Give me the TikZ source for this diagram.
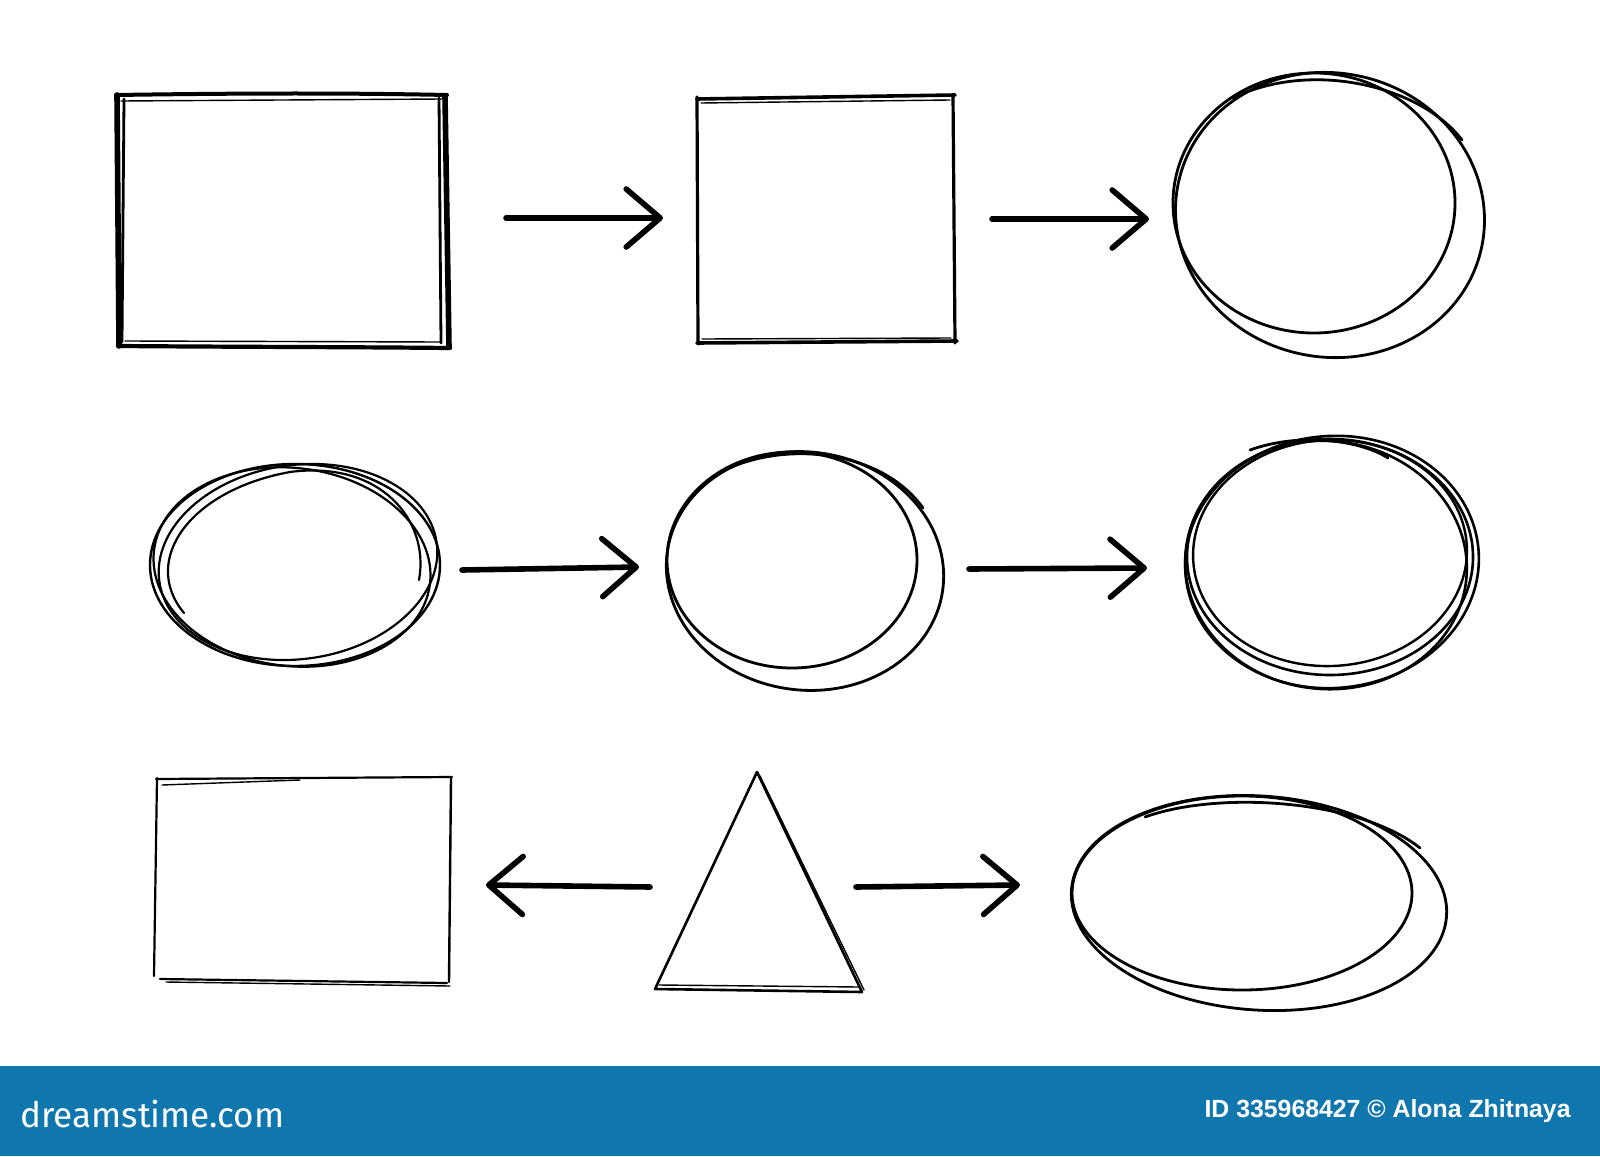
\documentclass[tikz,border=0pt]{standalone}
\usepackage{graphicx}
\usepackage{fontspec}
\setmainfont{Liberation Sans}
\newfontfamily\logofont{Fira Sans}
\usetikzlibrary{arrows.meta}
\definecolor{dtblue}{HTML}{1077AE}
\begin{document}
\begin{tikzpicture}[x=0.5pt,y=-0.5pt,
  pen/.style={line width=1.4pt, line cap=round, line join=round},
  thinpen/.style={line width=0.7pt, line cap=round},
  heavy/.style={line width=2.8pt, line cap=round},
  arr/.style={line width=2.8pt, line cap=round, -{Straight Barb[length=17pt,width=29pt,round]}}]
\useasboundingbox (0,0) rectangle (1600,1156);
\fill[white] (0,0) rectangle (1600,1156);

% ---------- row 1 ----------
% rectangle 1 (heavy sketch)
\coordinate (rA) at (283,220);
\draw[heavy] (117,95) -- (119,346);
\draw[pen] (124,99) -- (122,342);
\draw[heavy] (445,96) -- (449,347);
\draw[pen] (439,98) -- (441,343);
\draw[pen,line width=2pt] (116,95) .. controls (250,93) and (350,93) .. (447,95);
\draw[thinpen] (121,101) -- (443,99);
\draw[pen,line width=2.1pt] (118,346) .. controls (250,347) and (350,347) .. (450,348);
\draw[thinpen] (125,341) -- (441,342);

% rectangle 2
\coordinate (rB) at (826,220);
\draw[pen,line width=1.8pt] (697,99) -- (955,95);
\draw[thinpen] (701,103) -- (950,100);
\draw[pen,line width=1.6pt] (697,97) -- (698,344);
\draw[pen,line width=1.6pt] (953,95) -- (955,343);
\draw[pen,line width=1.8pt] (697,343) -- (957,341);
\draw[thinpen] (702,339) -- (951,338);

% circle 1
\coordinate (cA) at (1320,210);
\draw[pen] (1314,203) ellipse [x radius=141, y radius=130];
\draw[pen,rotate around={-12:(1330,215)}] (1330,215) ellipse [x radius=155, y radius=142];
\draw[pen] (1233,98) .. controls (1310,60) and (1420,85) .. (1462,140);

% arrows row 1
\coordinate (a1s) at (506,218); \coordinate (a1e) at (663,218);
\coordinate (a2s) at (992,219); \coordinate (a2e) at (1149,219);
\draw[arr] (a1s) -- (a1e);
\draw[arr] (a2s) -- (a2e);

% ---------- row 2 ----------
% ellipse left (multi loop)
\coordinate (eL) at (295,565);
\draw[pen,line width=1.2pt] (295,565) ellipse [x radius=145, y radius=101];
\draw[pen,line width=1.1pt,rotate around={8:(298,562)}] (298,562) ellipse [x radius=140, y radius=97];
\draw[pen,line width=1.1pt,rotate around={-7:(292,567)}] (292,567) ellipse [x radius=139, y radius=99];
\draw[pen,line width=1.1pt] (184,613) .. controls (140,560) and (190,490) .. (290,472)
   .. controls (380,460) and (430,520) .. (419,580);

% circle middle
\coordinate (cB) at (800,565);
\draw[pen] (792,560) ellipse [x radius=125, y radius=108];
\draw[pen,rotate around={-8:(805,571)}] (805,571) ellipse [x radius=139, y radius=119];
\draw[pen] (719,473) .. controls (780,440) and (880,448) .. (923,508);

% circle right (multi loop)
\coordinate (cC) at (1330,560);
\draw[pen,line width=1.3pt] (1330,557) ellipse [x radius=143, y radius=118];
\draw[pen,line width=1.3pt,rotate around={5:(1332,562)}] (1332,562) ellipse [x radius=147, y radius=126];
\draw[pen,line width=1.3pt,rotate around={-6:(1326,565)}] (1326,565) ellipse [x radius=141, y radius=124];
\draw[pen,line width=1.2pt,rotate around={3:(1330,553)}] (1330,553) ellipse [x radius=137, y radius=113];
\draw[pen] (1250,450) .. controls (1300,432) and (1360,440) .. (1388,458);

% arrows row 2
\coordinate (a3s) at (462,570); \coordinate (a3e) at (639,567);
\coordinate (a4s) at (969,569); \coordinate (a4e) at (1147,568);
\draw[arr] (a3s) -- (a3e);
\draw[arr] (a4s) -- (a4e);

% ---------- row 3 ----------
% rectangle 3
\coordinate (rC) at (303,880);
\draw[pen,line width=1.1pt] (156,779) -- (452,777);
\draw[thinpen] (162,785) -- (300,780);
\draw[pen,line width=1.1pt] (157,778) -- (154,976);
\draw[pen,line width=1.2pt] (451,778) -- (449,982);
\draw[pen,line width=1.1pt] (160,979) -- (447,983);
\draw[thinpen] (166,982) -- (450,986);

% triangle
\coordinate (tA) at (757,915);
\draw[pen,line width=1.3pt] (757,772) -- (655,989) -- (862,992) -- cycle;
\draw[thinpen] (760,776) -- (864,990);
\draw[thinpen] (659,985) -- (859,987);

% arrows row 3
\coordinate (a5s) at (650,887); \coordinate (a5e) at (486,885);
\coordinate (a6s) at (856,887); \coordinate (a6e) at (1020,885);
\draw[arr] (a5s) -- (a5e);
\draw[arr] (a6s) -- (a6e);

% ellipse right
\coordinate (eR) at (1250,900);
\draw[pen] (1242,893) ellipse [x radius=170, y radius=97];
\draw[pen,rotate around={-4:(1259,903)}] (1259,903) ellipse [x radius=188, y radius=107];
\draw[pen] (1145,817) .. controls (1220,790) and (1360,800) .. (1420,848);

% ---------- banner ----------
\fill[dtblue] (0,1066) rectangle (1600,1156);
\node[anchor=west, text=white, inner sep=0pt] (logo) at (20,1114)
  {\resizebox{132pt}{!}{\logofont dreamstime.com}};
\node[anchor=east, text=white, inner sep=0pt] (credit) at (1571,1111)
  {\resizebox{183pt}{!}{\bfseries ID 335968427 © Alona Zhitnaya}};
\end{tikzpicture}
\end{document}
